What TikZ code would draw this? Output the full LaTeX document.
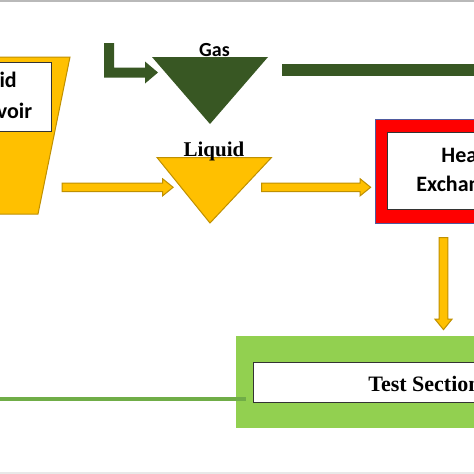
\documentclass[tikz,border=0pt]{standalone}
\usepackage{fontspec}
\setmainfont{Liberation Serif}
\newfontfamily\carlito{Carlito}
\usetikzlibrary{shapes.arrows}
\definecolor{gold}{HTML}{FFC000}
\definecolor{goldline}{HTML}{BF9000}
\definecolor{darkgreen}{HTML}{385723}
\definecolor{lightgreen}{HTML}{92D050}
\definecolor{pipegreen}{HTML}{70AD47}
\definecolor{frameblue}{HTML}{4F5A9E}
\tikzset{
  yarrow/.style={single arrow, draw=goldline, fill=gold, line width=1pt, inner xsep=0pt, inner ysep=3.8pt,
    single arrow head extend=4.2pt, single arrow tip angle=78},
  sanstext/.style={font=\carlito\bfseries\fontsize{22}{29}\selectfont, align=center},
  seriftext/.style={font=\bfseries\fontsize{22}{26}\selectfont}
}
\begin{document}
\begin{tikzpicture}[x=1pt, y=-1pt]
        \clip (0,0) rectangle (474,474);
        \fill[white] (0,0) rectangle (474,474);
        \fill[gray!55] (0,0) rectangle (474,1.5);
        \fill[gray!18] (0,472) rectangle (474,474);
        % reservoir
        \draw[goldline, fill=gold, line width=1pt] (-20,57) -- (70,57) -- (38,214) -- (-20,214) -- cycle;
        \draw[black!80, fill=white, line width=1pt] (-20,62.5) rectangle (51.5,131.5);
        \node[sanstext, font=\carlito\bfseries\fontsize{22}{31}\selectfont] (res) at (-11,95) {Liquid\\Reservoir};
        % separator
        \fill[darkgreen] (104,43) -- (114,43) -- (114,67.5) -- (145,67.5) -- (145,61.5) -- (158,72.5)
                -- (145,83.5) -- (145,77.5) -- (104,77.5) -- cycle;
        \fill[darkgreen] (152,57) -- (268,57) -- (210,124) -- cycle;
        \node[sanstext, font=\carlito\bfseries\fontsize{20}{24}\selectfont, anchor=base] (gas) at (214.5,56.5) {Gas};
        \fill[darkgreen] (282,64) rectangle (480,76);
        \draw[goldline, fill=gold, line width=1pt] (157,157.5) -- (271.5,157.5) -- (210,223) -- cycle;
        \node[seriftext, font=\bfseries\fontsize{21}{24}\selectfont, anchor=base] (liq) at (214,156) {Liquid};
        % heat exchanger
        \draw[frameblue, fill=red, line width=1.5pt] (375.5,119.5) rectangle (490,223.5);
        \draw[black!80, fill=white, line width=1pt] (387,132) rectangle (490,209);
        \node[sanstext] (hex) at (463,172) {Heat\\Exchanger};
        % test section
        \fill[lightgreen] (236,336) rectangle (490,428);
        \draw[black!80, fill=white, line width=1pt] (253,362) rectangle (490,402);
        \node[seriftext, anchor=base] (test) at (424.5,391.3) {Test Section};
        \coordinate (back) at (0,399);
        \draw[pipegreen, line width=4pt] (back) -- ++(246,0);
        % flow arrows
        \node[yarrow, minimum height=111pt] (arrA) at (115,187.3) {};
        \node[yarrow, minimum height=109pt] (arrB) at (313.5,187.3) {};
        \node[yarrow, minimum height=92pt, rotate=-90] (arrC) at (443.5,281) {};
\end{tikzpicture}
\end{document}
